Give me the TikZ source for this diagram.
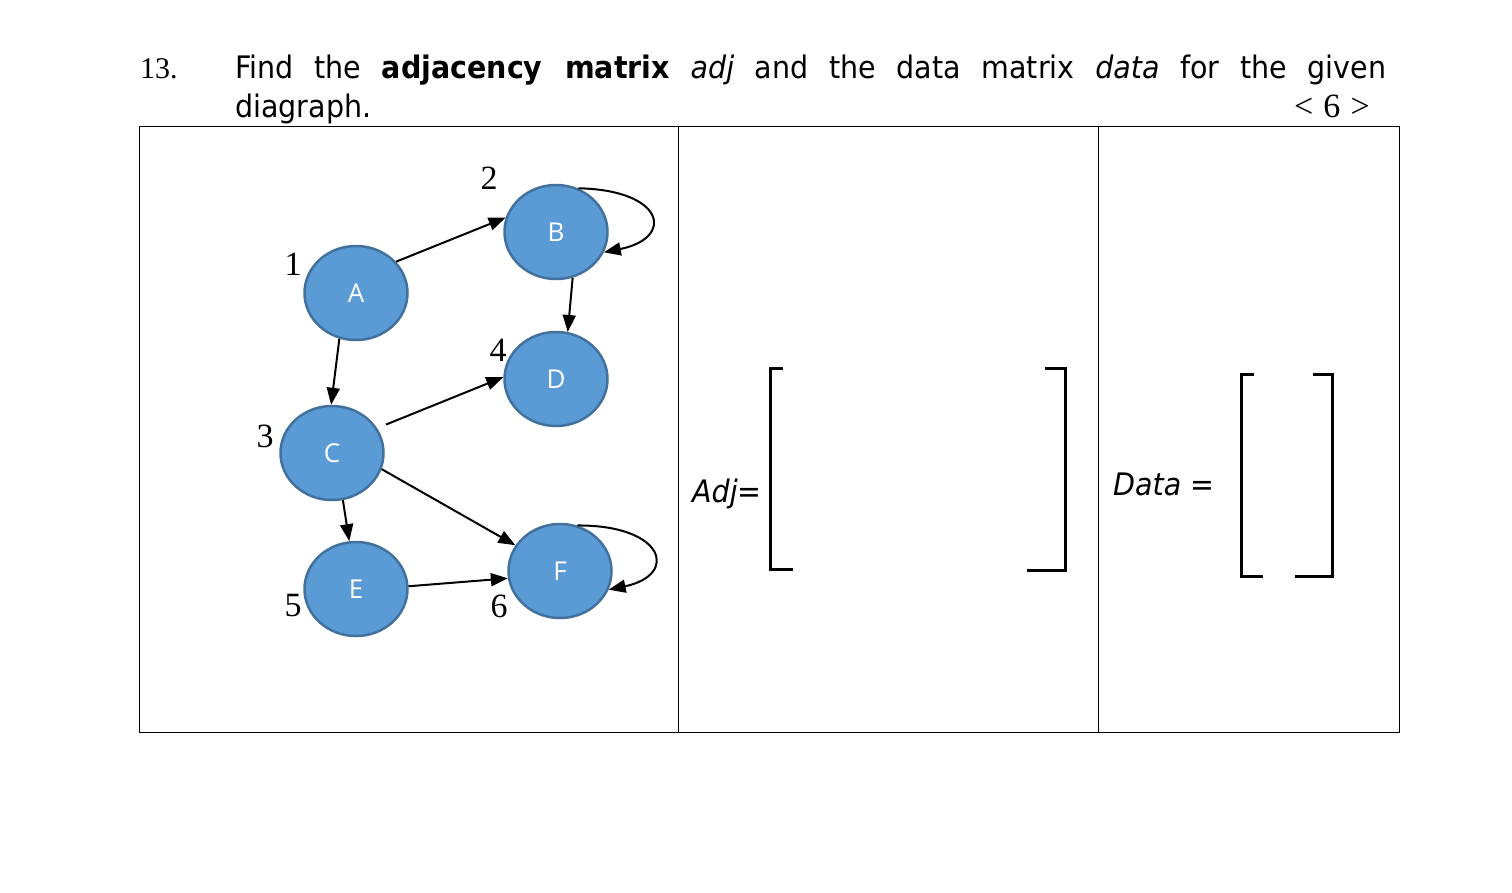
\documentclass[tikz,border=0pt]{standalone}
\usepackage{fontspec}
\usetikzlibrary{arrows.meta,shapes.geometric}
\setmainfont{DejaVu Sans}[FakeStretch=0.92]
\newfontfamily\tnr{Liberation Serif}
\newfontfamily\lbl{Open Sans}
\definecolor{nodefill}{HTML}{5B9BD5}
\definecolor{nodeline}{HTML}{41719C}
\begin{document}
\begin{tikzpicture}[x=1pt,y=-1pt,
  vert/.style={ellipse, draw=nodeline, fill=nodefill, line width=2.5pt, minimum width=103pt, minimum height=94pt, inner sep=0pt, text=white, font=\lbl\fontsize{26}{28}\selectfont},
  num/.style={font=\tnr\fontsize{34}{36}\selectfont, inner sep=0pt},
  edgearrow/.style={line width=2pt, -{Triangle[length=17pt,width=13pt]}},
  cellline/.style={line width=1pt},
  brk/.style={line width=3pt},
  txt/.style={inner sep=0pt, font=\fontsize{31}{36}\selectfont}]
\useasboundingbox (0,0) rectangle (1512,892);
% heading
\node[anchor=base west, inner sep=0pt, font=\tnr\fontsize{30}{36}\selectfont] (qn) at (140,78) {13.};
\node[txt, anchor=base west] (line1) at (235,78) {\makebox[1151pt][s]{Find the \textbf{adjacency matrix} \textit{adj} and the data matrix \textit{data} for the given}};
\node[txt, anchor=base west] (line2) at (235,117) {diagraph.};
\node[anchor=base east, inner sep=0pt, font=\tnr\fontsize{34}{36}\selectfont] (marks) at (1370,117) {<\hspace{0.3em}6\hspace{0.3em}>};
% table
\draw[cellline] (139,126) rectangle (1399,732);
\draw[cellline] (678,126) -- (678,732);
\draw[cellline] (1098,126) -- (1098,732);
% graph nodes
\node[vert] (A) at (356,293) {A};
\node[vert] (B) at (556,232) {B};
\node[vert] (D) at (556,379) {D};
\node[vert] (C) at (332,453) {C};
\node[vert] (E) at (356,589) {E};
\node[vert] (F) at (560,571) {F};
% numbers
\node[num] (n1) at (293,264) {1};
\node[num] (n2) at (489,178) {2};
\node[num] (n4) at (498,350) {4};
\node[num] (n3) at (265,436) {3};
\node[num] (n5) at (293,606) {5};
\node[num] (n6) at (499,606) {6};
% edges
\draw[edgearrow] (A.38) -- (B.164);
\draw[edgearrow] (B.290) -- (D.76);
\draw[edgearrow] (A.250) -- (C.91);
\draw[edgearrow] ([shift={(8,-5)}]C.27) -- (D.178);
\draw[edgearrow] (C.342) -- (F.150);
\draw[edgearrow] (C.283) -- (E.98);
\draw[edgearrow] (E.3) -- (F.188);
\draw[edgearrow] (B.63) .. controls (665,190) and (675,238) .. (B.337);
\draw[edgearrow] (F.69) .. controls (665,525) and (679,575) .. (F.339);
% Adj
\node[anchor=base west, inner sep=0pt, font=\fontsize{31}{36}\selectfont] (adjlbl) at (692,502) {\textit{Adj}=};
\draw[brk] (783,368) -- (770,368) -- (770,569) -- (793,569);
\draw[brk] (1045,368) -- (1065,368) -- (1065,570) -- (1027,570);
% Data
\node[anchor=base west, inner sep=0pt, font=\fontsize{31}{36}\selectfont] (datalbl) at (1113,495) {\textit{Data} =};
\draw[brk] (1254,374) -- (1241,374) -- (1241,576) -- (1263,576);
\draw[brk] (1313,374) -- (1332,374) -- (1332,576) -- (1295,576);
\end{tikzpicture}
\end{document}
